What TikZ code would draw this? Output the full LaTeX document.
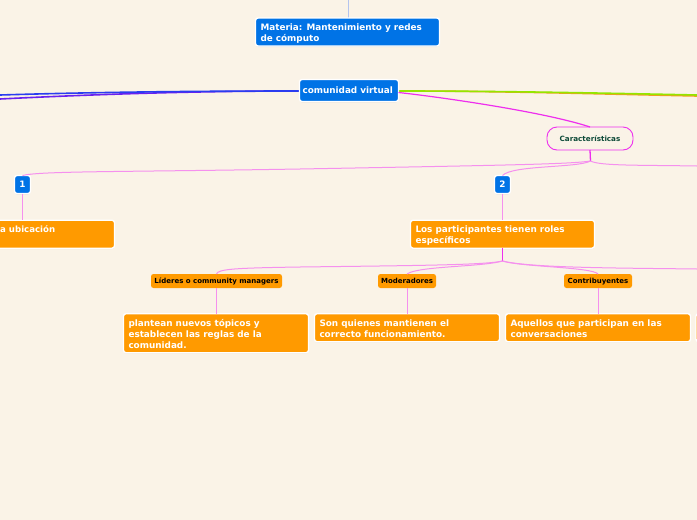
\documentclass[tikz,border=0pt]{standalone}
\usepackage{fontspec}
\setmainfont{DejaVu Sans}
\usetikzlibrary{shadows}
\definecolor{bgc}{HTML}{FAF3E7}
\definecolor{bluebox}{HTML}{0073E6}
\definecolor{orangebox}{HTML}{FF9A00}
\definecolor{mag}{HTML}{EE2EEE}
\definecolor{pinkl}{HTML}{F590EE}
\definecolor{topl}{HTML}{B4C4EE}
\definecolor{greenl}{HTML}{94E600}
\definecolor{orangel}{HTML}{F0A020}
\definecolor{bluel}{HTML}{2A3CF0}
\definecolor{purplel}{HTML}{6A20F0}
\definecolor{darkg}{HTML}{0E4A38}
\newcommand{\boxtext}[4][4pt]{\parbox[c][#2][t]{#3}{\vspace*{#1}\raggedright\rule{0pt}{8pt}#4}}
\tikzset{
  x=1pt,y=-1pt,
  boxbase/.style={anchor=north west,inner sep=0pt,outer sep=0pt,rounded corners=2.5pt,draw=white,line width=1.4pt,
    drop shadow={opacity=0.12,shadow xshift=0pt,shadow yshift=-1pt}},
  bigtext/.style={font=\bfseries\fontsize{8.85}{11}\selectfont,text=white},
  bluenode/.style={boxbase,fill=bluebox,bigtext},
  orangenode/.style={boxbase,fill=orangebox,bigtext},
  smallorange/.style={anchor=north west,inner sep=0pt,outer sep=0pt,rounded corners=2.5pt,fill=orangebox,font=\bfseries\fontsize{7}{9}\selectfont,text=black,align=center,text height=5.5pt,text depth=1.5pt},
  pill/.style={anchor=north west,inner sep=0pt,outer sep=0pt,fill=bgc,draw=mag,line width=0.9pt,rounded corners=10pt,font=\bfseries\fontsize{7.2}{9}\selectfont,text=darkg,align=center},
  thinlink/.style={draw=pinkl,line width=1pt},
  thicklink/.style={line width=1.6pt},
}
\begin{document}
\begin{tikzpicture}
\clip (0,0) rectangle (697,520);
\useasboundingbox (0,0) rectangle (697,520);
\fill[bgc] (0,0) rectangle (697,520);

% free ends
\coordinate (topend) at (348,0);
\coordinate (leftA) at (0,95);
\coordinate (leftB) at (0,99);
\coordinate (rightA) at (697,95);
\coordinate (rightB) at (697,96);
\coordinate (rightC) at (697,166);
\coordinate (rightD) at (697,269);
\coordinate (jc) at (590.5,161);
\coordinate (jl) at (502.5,261);

% connectors under the boxes
\draw[topl,line width=1pt] (topend) -- (348,19);
\draw[orangel,thicklink] (398,91) .. controls (500,91) and (600,94) .. (rightB);
\draw[greenl,thicklink] (398,91) .. controls (500,91) and (600,93) .. (rightA);
\draw[purplel,thicklink] (300,91) .. controls (200,91) and (100,94) .. (leftB);
\draw[bluel,thicklink] (300,91) .. controls (200,91) and (100,92) .. (leftA);

% boxes
\node[bluenode,minimum width=184pt,minimum height=28pt] (materia) at (255.5,18) {\boxtext{28pt}{174pt}{Materia: Mantenimiento y redes\\de cómputo}};
\node[bluenode,align=left,minimum width=99pt,minimum height=22pt,text width=93pt] (comunidad) at (299.5,79.5) {comunidad virtual};
\node[pill,minimum width=86pt,minimum height=23pt] (carac) at (547,127) {Características};
\node[bluenode,minimum width=16pt,minimum height=18pt,align=center,text width=16pt] (uno) at (14.5,175.5) {1};
\node[bluenode,minimum width=16pt,minimum height=18pt,align=center,text width=16pt] (dos) at (494.5,175.5) {2};
\node[orangenode,minimum width=184pt,minimum height=28pt] (ubic) at (-69.5,220.2) {\boxtext{28pt}{174pt}{\hspace*{64.7pt}\fontsize{8.6}{11}\selectfont a ubicación}};
\node[orangenode,minimum width=184pt,minimum height=28pt] (part) at (410.5,220.2) {\boxtext{28pt}{174pt}{Los participantes tienen roles\\específicos}};
\node[smallorange,minimum width=131pt,minimum height=14pt] (lider) at (151,274) {Líderes o community managers};
\node[smallorange,minimum width=58pt,minimum height=14pt] (moder) at (378,274) {Moderadores};
\node[smallorange,minimum width=68pt,minimum height=14pt] (contr) at (564,274) {Contribuyentes};
\node[orangenode,minimum width=185pt,minimum height=39pt] (plant) at (123.5,313.7) {\boxtext[4.7pt]{39pt}{175pt}{plantean nuevos tópicos y\\establecen las reglas de la\\comunidad.}};
\node[orangenode,minimum width=185pt,minimum height=28pt] (son) at (314.5,313.7) {\boxtext[4.7pt]{28pt}{175pt}{Son quienes mantienen el\\correcto funcionamiento.}};
\node[orangenode,minimum width=185pt,minimum height=28pt] (aque) at (505.5,313.7) {\boxtext[4.7pt]{28pt}{175pt}{Aquellos que participan en las\\conversaciones}};
\node[orangenode,minimum width=185pt,minimum height=28pt] (extra) at (696,313.7) {};

% connectors between named nodes
\draw[mag,line width=1.2pt] (comunidad.east) ++(0,2) .. controls (440,97) and (545,112) .. (carac.north);
\draw[mag,line width=1.3pt] (carac.south) -- (jc);
\draw[thinlink] (jc) .. controls (570,164) and (520,165) .. (300,169) .. controls (120,172) and (40,171) .. (uno.north);
\draw[thinlink] (jc) .. controls (578,168) and (512,165) .. (dos.north);
\draw[thinlink] (jc) .. controls (600,166) and (640,165) .. (rightC);
\draw[thinlink] (uno.south) -- (uno.south |- ubic.north);
\draw[thinlink] (dos.south) -- (part.north -| dos.south);
\draw[mag,line width=1.3pt] (part.south -| jl) -- (jl);
\draw[thinlink] (jl) .. controls (485,265) and (420,265.5) .. (300,267) .. controls (235,268) and (218,269) .. (lider.north);
\draw[thinlink] (jl) .. controls (482,267) and (418,266) .. (moder.north);
\draw[thinlink] (jl) .. controls (522,267) and (592,267) .. (contr.north);
\draw[thinlink] (jl) .. controls (530,268) and (620,268) .. (rightD);
\draw[thinlink] (lider.south) -- (plant.north -| lider.south);
\draw[thinlink] (moder.south) -- (son.north -| moder.south);
\draw[thinlink] (contr.south) -- (aque.north -| contr.south);
\end{tikzpicture}
\end{document}
